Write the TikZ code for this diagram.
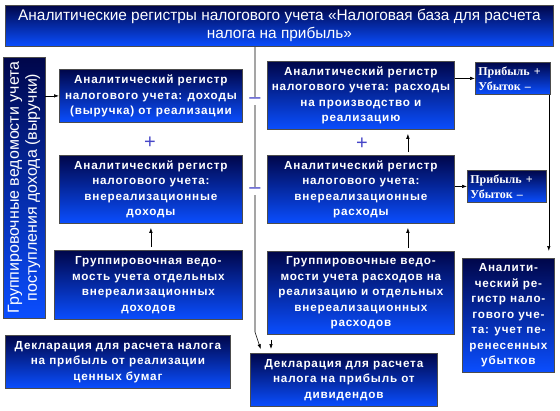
\documentclass[tikz,border=0pt]{standalone}
\usepackage{fontspec}
\setmainfont{Liberation Sans}
\newfontfamily\boxfont{Liberation Sans}[LetterSpace=7]
\newfontfamily\profitfont{Liberation Serif}
\usetikzlibrary{arrows.meta}
\definecolor{colorTop}{HTML}{00064A}
\definecolor{colorBottom}{HTML}{0A4EFF}
\definecolor{colorSign}{HTML}{4646C8}

\begin{document}
\begin{tikzpicture}[x=1pt,y=-1pt,
        box/.style={draw=black!70, line width=0.8pt, top color=colorTop, bottom color=colorBottom,
            text=white, font=\boxfont\bfseries\fontsize{11.7}{15.5}\selectfont, align=center, inner sep=0pt, anchor=north west},
        profit/.style={box, font=\profitfont\bfseries\fontsize{12}{15}\selectfont, align=left,
            inner xsep=3pt, minimum height=32},
        arr/.style={-{Latex[length=5pt,width=3.5pt]}, line width=0.6pt},
        sign/.style={text=colorSign, fill=white, inner sep=1pt, font=\fontsize{20}{20}\selectfont}]
        \useasboundingbox (0,0) rectangle (560,410);
        % title and left column
        \node[box, minimum width=548, minimum height=41, font=\fontsize{15.4}{18}\selectfont] (title) at (5,5)
            {Аналитические регистры налогового учета «Налоговая база для расчета\\налога на прибыль»};
        \node[box, anchor=center, rotate=90, minimum width=261, minimum height=42, font=\fontsize{16}{18}\selectfont] (income) at (24,187.5)
            {Группировочные ведомости учета\\поступления дохода (выручки)};
        \node[box, minimum width=183, minimum height=53] (sales) at (59,69)
            {Аналитический регистр\\налогового учета: доходы\\(выручка) от реализации};
        \node[box, minimum width=183, minimum height=68] (otherinc) at (59,155)
            {Аналитический регистр\\налогового учета:\\внереализационные\\доходы};
        \node[box, minimum width=188, minimum height=69] (incsheet) at (54,250)
            {Группировочная ведо-\\мость учета отдельных\\внереализационных\\доходов};
        \node[box, minimum width=225, minimum height=53] (secdecl) at (5,335)
            {Декларация для расчета налога\\на прибыль от реализации\\ценных бумаг};
        % right column
        \node[box, minimum width=187, minimum height=68] (costs) at (267,61)
            {Аналитический регистр\\налогового учета: расходы\\на производство и\\реализацию};
        \node[box, minimum width=187, minimum height=68] (othercost) at (267,155)
            {Аналитический регистр\\налогового учета:\\внереализационные\\расходы};
        \node[box, minimum width=187, minimum height=83] (costsheet) at (267,251)
            {Группировочные ведо-\\мости учета расходов на\\реализацию и отдельных\\внереализационных\\расходов};
        \node[box, minimum width=187, minimum height=53] (divdecl) at (250,353)
            {Декларация для расчета\\налога на прибыль от\\дивидендов};
        \node[profit, text width=69] (profitA) at (475,62) {Прибыль +\\Убыток –};
        \node[profit, text width=73] (profitB) at (467,170) {Прибыль +\\Убыток –};
        \node[box, minimum width=92, minimum height=114] (losses) at (462,258)
            {Аналити-\\ческий ре-\\гистр нало-\\гового уче-\\та: учет пе-\\ренесенных\\убытков};

        % connectors
        \coordinate (spine) at (255,332);
        \draw[arr, shorten >=4pt] (title.south -| spine) -- (spine) -- ([xshift=12]divdecl.north west);
        \node[sign] (minusA) at (255,101) {–};
        \node[sign] (minusB) at (255,191) {–};
        \node[sign] (plusA) at (150,143) {+};
        \node[sign] (plusB) at (362,144) {+};
        \draw[arr] (sales.west -| income.south) -- (sales.west);
        \draw[arr, shorten <=3pt, shorten >=4pt] (incsheet.north -| otherinc) -- (otherinc.south);
        \draw[arr, shorten <=3pt, shorten >=4pt] ([xshift=47]othercost.north) -- ([xshift=47]costs.south);
        \draw[arr, shorten <=3pt, shorten >=4pt] ([xshift=47]costsheet.north) -- ([xshift=47]othercost.south);
        \draw[arr, shorten <=5pt, shorten >=4pt] ([xshift=21]divdecl.north west |- costsheet.south) -- ([xshift=21]divdecl.north west);
        \draw[arr] (profitA.west -| costs.east) -- (profitA.west);
        \draw[arr] (profitB.west -| othercost.east) -- (profitB.west);
        \draw[arr, shorten >=7pt] ([xshift=-2]profitA.south east) -- ([xshift=-2]profitA.south east |- losses.north);
\end{tikzpicture}
\end{document}
